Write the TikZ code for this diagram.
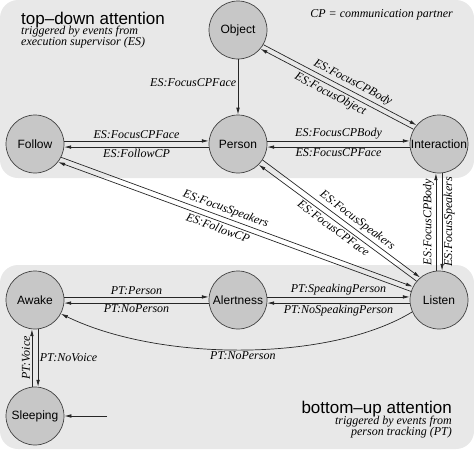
\documentclass[tikz,border=0pt]{standalone}
\usepackage{fontspec}
\setmainfont{Liberation Serif}
\newfontfamily\hsans{Liberation Sans}
\usetikzlibrary{arrows.meta}
\begin{document}
\begin{tikzpicture}[x=1pt,y=-1pt,
  state/.style={circle, draw=black!75, fill=black!22, line width=0.7pt, minimum size=58pt, inner sep=0pt, font=\hsans\fontsize{12}{14}\selectfont},
  tr/.style={draw=black!85, line width=0.7pt, -{Latex[length=7pt,width=3.6pt]}},
  el/.style={font=\fontsize{12}{14}\selectfont\itshape, inner sep=1.5pt},
  sl/.style={el, sloped, inner sep=2.2pt},
  note/.style={font=\fontsize{12}{14}\selectfont\itshape, inner sep=0pt},
  title/.style={font=\hsans\fontsize{17}{20}\selectfont, inner sep=0pt},
  region/.style={fill=black!9, rounded corners=18pt}
]
\useasboundingbox (0,0) rectangle (474,450);
\fill[region] (0,0) rectangle (474,178);
\fill[region] (0,265) rectangle (474,449);

% texts
\node[title, anchor=base west] (tdt) at (21,24) {top–down attention};
\node[note, anchor=base west] (tds1) at (21,34.5) {triggered by events from};
\node[note, anchor=base west] (tds2) at (21,45.5) {execution supervisor (ES)};
\node[note, anchor=base east] (cp) at (453,17) {CP = communication partner};
\node[title, anchor=base east] (but) at (452,413) {bottom–up attention};
\node[note, anchor=base east] (bus1) at (452,424) {triggered by events from};
\node[note, anchor=base east] (bus2) at (452,435) {person tracking (PT)};

% states
\node[state] (Object) at (238,30) {Object};
\node[state] (Follow) at (35,144) {Follow};
\node[state] (Person) at (238,144) {Person};
\node[state] (Interaction) at (439,144) {Interaction};
\node[state] (Awake) at (35,300) {Awake};
\node[state] (Alertness) at (238,300) {Alertness};
\node[state] (Listen) at (439,300) {Listen};
\node[state] (Sleeping) at (35,416) {Sleeping};
\coordinate (init) at (107,416);

% top-down transitions
\draw[tr] (Object) -- node[el, left, pos=0.42] {ES:FocusCPFace} (Person);
\draw[tr] (Follow.6) -- node[el, above] {ES:FocusCPFace} (Person.174);
\draw[tr] (Person.186) -- node[el, below] {ES:FollowCP} (Follow.-6);
\draw[tr] (Person.6) -- node[el, above] {ES:FocusCPBody} (Interaction.174);
\draw[tr] (Interaction.186) -- node[el, below] {ES:FocusCPFace} (Person.-6);
\draw[tr] (Object.-30) -- node[sl, above, pos=0.56] {ES:FocusCPBody} (Interaction.140);
\draw[tr] (Interaction.150) -- node[sl, below, pos=0.52] {ES:FocusObject} (Object.-40);
\draw[tr] (Follow.-27) -- node[sl, above, pos=0.46] {ES:FocusSpeakers} (Listen.153);
\draw[tr] (Listen.163) -- node[sl, below, pos=0.54] {ES:FollowCP} (Follow.-38);
\draw[tr] (Person.-33) -- node[sl, above, pos=0.57] {ES:FocusSpeakers} (Listen.130);
\draw[tr] (Listen.140) -- node[sl, below, pos=0.5] {ES:FocusCPFace} (Person.-45);
\draw[tr] (Listen.96) -- node[el, rotate=90, anchor=south] {ES:FocusCPBody} (Interaction.-96);
\draw[tr] (Interaction.-84) -- node[el, rotate=90, anchor=north] {ES:FocusSpeakers} (Listen.84);

% bottom-up transitions
\draw[tr] (Awake.6) -- node[el, above] {PT:Person} (Alertness.174);
\draw[tr] (Alertness.186) -- node[el, below] {PT:NoPerson} (Awake.-6);
\draw[tr] (Alertness.6) -- node[el, above] {PT:SpeakingPerson} (Listen.174);
\draw[tr] (Listen.186) -- node[el, below] {PT:NoSpeakingPerson} (Alertness.-6);
\draw[tr] (Listen.204) .. controls (330,362) and (160,362) .. node[el, below, pos=0.5] {PT:NoPerson} (Awake.-28);
\draw[tr] (Sleeping.96) -- node[el, rotate=90, anchor=south] {PT:Voice} (Awake.-96);
\draw[tr] (Awake.-84) -- node[el, right] {PT:NoVoice} (Sleeping.84);
\draw[tr] (init) -- (Sleeping);
\end{tikzpicture}
\end{document}
